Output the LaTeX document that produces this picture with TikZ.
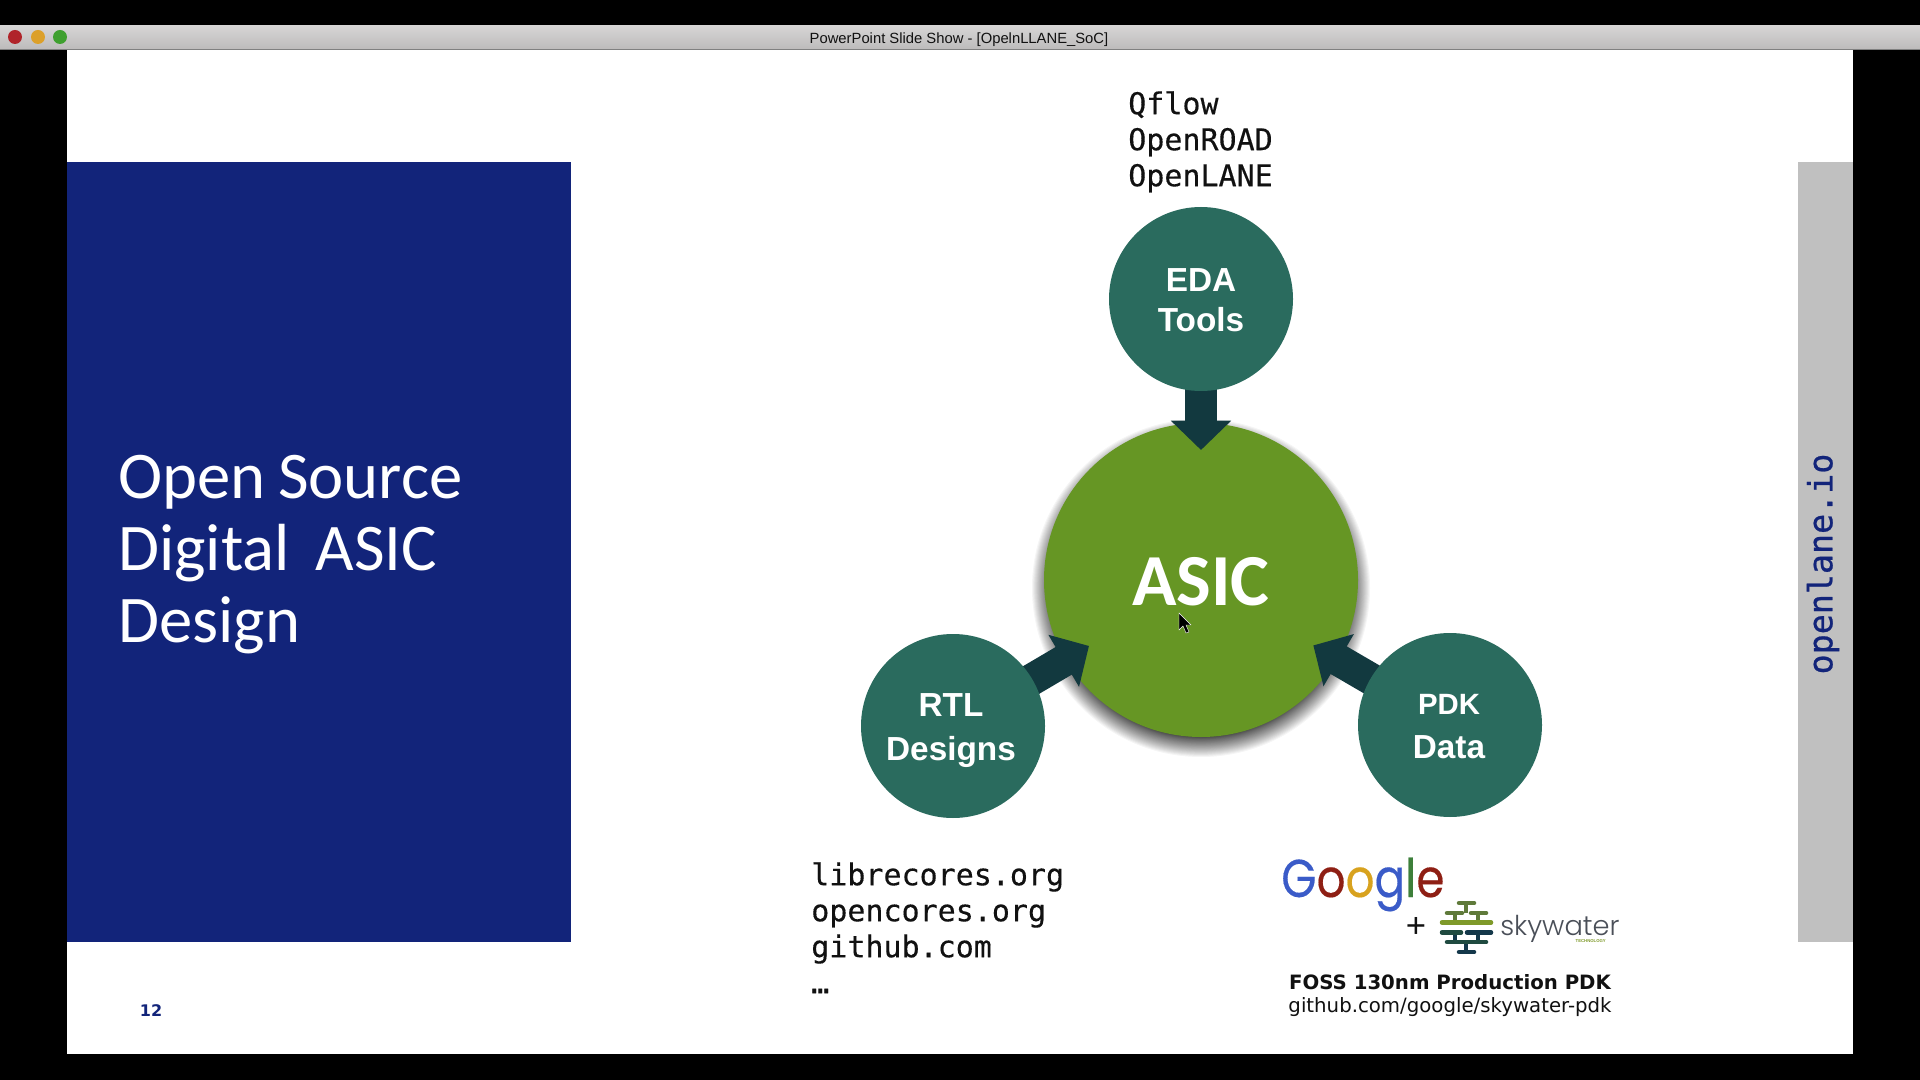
\documentclass[tikz,border=0pt]{standalone}
\usepackage{fontspec}
\setmainfont{Carlito}
\newfontfamily\monof[FakeBold=0.35]{DejaVu Sans Mono}
\newfontfamily\sitef[FakeBold=0.7]{DejaVu Sans Mono}
\newfontfamily\dvs{DejaVu Sans}
\newfontfamily\libs{Liberation Sans}
\newfontfamily\logof[FakeStretch=0.85,FakeBold=0.3]{Poppins}
\newfontfamily\swf{Poppins Light}
\usetikzlibrary{arrows.meta,calc}
\pgfdeclarelayer{basel}
\pgfdeclarelayer{backl}
\pgfdeclarelayer{midl}
\pgfsetlayers{basel,backl,midl,main}
\definecolor{barc}{HTML}{BDBBBB}
\definecolor{barl}{HTML}{D6D5D5}
\definecolor{navy}{HTML}{12247A}
\definecolor{teal}{HTML}{2A6B5E}
\definecolor{leaf}{HTML}{669624}
\definecolor{dark}{HTML}{12393F}
\definecolor{greyb}{HTML}{C0C0C0}
\definecolor{ink}{HTML}{111111}
\definecolor{gb}{HTML}{3A5BC8}
\definecolor{gr}{HTML}{8E1F14}
\definecolor{gy}{HTML}{D8A21E}
\definecolor{gg}{HTML}{3D7F3A}
\definecolor{swo}{HTML}{5F7A3A}
\definecolor{swg}{HTML}{7F9A2A}
\definecolor{swd}{HTML}{14384A}
\definecolor{swm}{HTML}{1F4A40}
\definecolor{swt}{HTML}{4A4F58}
\definecolor{btnr}{HTML}{B0242A}
\definecolor{btny}{HTML}{DCA02A}
\definecolor{btng}{HTML}{3FA02F}
\tikzset{
  x=0.75pt,y=-0.75pt,
  smallc/.style={circle,fill=teal,minimum size=138pt,inner sep=0pt},
  smallt/.style={inner sep=0pt,text=white,align=center,font=\libs\bfseries\fontsize{25}{30}\selectfont},
  bigc/.style={circle,fill=leaf,minimum size=235.5pt,inner sep=0pt},
  bigt/.style={inner sep=0pt,text=white,font=\bfseries\fontsize{55}{60}\selectfont},
  monolist/.style={anchor=north west,inner sep=0pt,align=left,text=ink,font=\monof\fontsize{22.5}{27}\selectfont},
  flow/.style={draw=dark,line width=24pt,shorten <=-5pt,-{Triangle[length=22pt,width=44pt]}},
  bar/.style={line width=3.4pt,line cap=round},
  stem/.style={line width=3pt},
  dot/.style={circle,inner sep=0pt,minimum size=10.5pt},
  titlet/.style={anchor=base west,inner sep=0pt,text=white,font=\fontsize{50}{58}\selectfont}
}
\begin{document}
\begin{tikzpicture}
\useasboundingbox (0,0) rectangle (1920,1080);
\begin{pgfonlayer}{basel}
\fill[black] (0,0) rectangle (1920,1080);
% window
\shade[top color=barl,bottom color=barc] (0,26) rectangle (1920,49);
\fill[gray] (0,49) rectangle (1920,50);
\fill[white] (67,50) rectangle (1853,1054);
% panels
\fill[navy] (67,162) rectangle (571,942);
\fill[greyb] (1798,162) rectangle (1853,942);
\end{pgfonlayer}
\node[dot,fill=btnr] (closebtn) at (15,37) {};
\node[dot,fill=btny] (minbtn) at (38,37) {};
\node[dot,fill=btng] (maxbtn) at (60,37) {};
\node[font=\libs\fontsize{11.1}{13}\selectfont,text=ink] (wintitle) at (959,39.5) {PowerPoint Slide Show - [OpelnLLANE\_SoC]};
\node[titlet] (t1) at (118,498) {Open\hspace{-2pt} Source};
\node[titlet] (t2) at (118,570) {Digital\hspace{8pt} ASIC};
\node[titlet] (t3) at (118,642) {Design};
\node[text=navy,font=\dvs\bfseries\fontsize{12}{14}\selectfont] (pagenum) at (151,1011) {12};
\node[rotate=90,text=navy,font=\sitef\fontsize{25}{30}\selectfont] (sitelabel) at (1823,564) {openlane.io};
% nodes
\begin{pgfonlayer}{backl}
\foreach \i in {0,...,27}{
  \pgfmathsetmacro{\shr}{(149+20*(1-\i/28)^1.5)*0.75}
  \fill[black,opacity=0.04] (1201,588) circle ({\shr pt});
}
\node[bigc] (asic) at (1201,580) {};
\end{pgfonlayer}
\node[bigt] (asict) at (1201,582) {ASIC};
\node[smallc] (eda) at (1201,299) {};
\node[smallc] (rtl) at (953,726) {};
\node[smallc] (pdk) at (1450,725) {};
\node[smallt] (edat) at (1201,300.5) {EDA\\Tools};
\node[smallt] (rtlt) at (951,730.5) {RTL\\[3pt]Designs};
\node[smallt,font=\libs\bfseries\fontsize{22}{30}\selectfont] (pdkt) at (1449,727) {PDK\\[3pt]{\fontsize{25}{30}\selectfont Data}};
\coordinate (tipe) at ($(asic.center)!97.5pt!(eda.center)$);
\coordinate (tipr) at ($(asic.center)!97.5pt!(rtl.center)$);
\coordinate (tipp) at ($(asic.center)!97.5pt!(pdk.center)$);
\begin{pgfonlayer}{midl}
\draw[flow] (eda) -- (tipe);
\draw[flow] (rtl) -- (tipr);
\draw[flow] (pdk) -- (tipp);
\end{pgfonlayer}
% mouse cursor
\fill[black,draw=white,line width=0.3pt] (1179,613) -- (1179,630) -- (1183,626) -- (1186,633) -- (1189,632) -- (1186,625) -- (1191,625) -- cycle;
% lists
\node[monolist] (toolslist) at (1128,91) {Qflow\\OpenROAD\\OpenLANE};
\node[monolist] (siteslist) at (811,862) {librecores.org\\opencores.org\\github.com\\…};
% google
\node[anchor=base west,inner sep=0pt,font=\logof\fontsize{40}{46}\selectfont] (google) at (1281,897)
  {\textcolor{gb}{G}\textcolor{gr}{o}\textcolor{gy}{o}\textcolor{gb}{g}\textcolor{gg}{l}\textcolor{gr}{e}};
\node[font=\libs\fontsize{26}{30}\selectfont,text=ink] (plus) at (1416,927) {+};
% skywater logo
\draw[stem,swo] (1466,903) -- (1466,913);
\draw[stem,swo] (1455,913) -- (1455,922);
\draw[stem,swo] (1478,913) -- (1478,922);
\draw[bar,swo] (1459,903) -- (1474,903);
\draw[bar,swo] (1447,913) -- (1462,913);
\draw[bar,swo] (1471,913) -- (1486,913);
\draw[bar,swg] (1442,922.5) -- (1491,922.5);
\draw[stem,swd] (1455,933) -- (1455,942);
\draw[stem,swd] (1478,933) -- (1478,942);
\draw[stem,swd] (1466,942) -- (1466,952);
\draw[bar,swm] (1442,932.5) -- (1461,932.5);
\draw[bar,swd] (1467,932.5) -- (1491,932.5);
\draw[bar,swm] (1447,942) -- (1486,942);
\draw[bar,swd] (1459,952) -- (1474,952);
\node[anchor=base west,inner sep=0pt,text=swt,font=\swf\fontsize{20.5}{24}\selectfont] (swname) at (1500,935) {skywater};
\node[anchor=base east,inner sep=0pt,text=swg,font=\libs\bfseries\fontsize{3.2}{4}\selectfont] (swsub) at (1606,942) {TECHNOLOGY};
\node[font=\dvs\bfseries\fontsize{14.8}{18}\selectfont,text=ink] (foss) at (1450,982) {FOSS 130nm Production PDK};
\node[font=\dvs\fontsize{14.8}{18}\selectfont,text=ink] (repo) at (1450,1007) {github.com/google/skywater-pdk};
\end{tikzpicture}
\end{document}
